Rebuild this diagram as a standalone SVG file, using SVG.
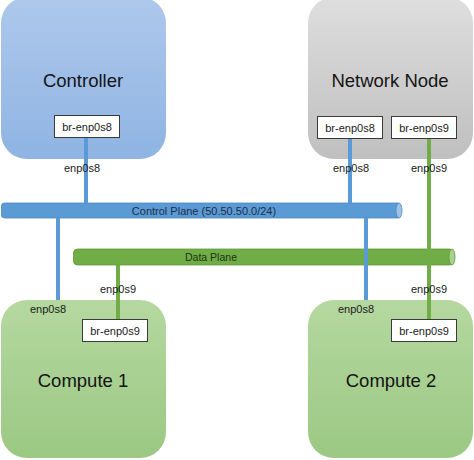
<svg xmlns="http://www.w3.org/2000/svg" width="474" height="460" viewBox="0 0 474 460">
<style>
.title{font-family:"Liberation Sans",Arial,sans-serif;font-size:18.5px;fill:#141414;text-anchor:middle}
.lbl{font-family:"Liberation Sans",Arial,sans-serif;font-size:11px;fill:#1a1a1a;text-anchor:middle}
.br{fill:#ffffff;stroke:#3a3a3a;stroke-width:1}
.blue{stroke:#5b9bd5;stroke-width:4;fill:none}
.green{stroke:#70ad47;stroke-width:4;fill:none}
</style>
<defs>
<linearGradient id="gBlue" x1="0" y1="0" x2="0" y2="1"><stop offset="0" stop-color="#aec8eb"/><stop offset="1" stop-color="#8fb4e3"/></linearGradient>
<linearGradient id="gGray" x1="0" y1="0" x2="0" y2="1"><stop offset="0" stop-color="#dedede"/><stop offset="1" stop-color="#bfbfbf"/></linearGradient>
<linearGradient id="gGreen" x1="0" y1="0" x2="0" y2="1"><stop offset="0" stop-color="#b5d8a0"/><stop offset="1" stop-color="#9bc883"/></linearGradient>
</defs>
<rect width="474" height="460" fill="#ffffff"/>

<g id="controller">
<rect x="1" y="-3" width="165" height="162" rx="26" fill="url(#gBlue)"/>
<text class="title" x="83" y="87">Controller</text>
</g>
<g id="network-node">
<rect x="308" y="-3" width="165" height="162" rx="26" fill="url(#gGray)"/>
<text class="title" x="390" y="87">Network Node</text>
</g>
<g id="compute1">
<rect x="1" y="300" width="165" height="158" rx="26" fill="url(#gGreen)"/>
<text class="title" x="83" y="387">Compute 1</text>
</g>
<g id="compute2">
<rect x="308" y="300" width="165" height="158" rx="26" fill="url(#gGreen)"/>
<text class="title" x="391" y="387">Compute 2</text>
</g>

<g id="control-plane">
<rect x="1.5" y="203" width="399" height="15" rx="3" fill="#5b9bd5" stroke="#4a86c0" stroke-width="0.8"/>
<ellipse cx="399" cy="210.5" rx="3" ry="7.5" fill="#9dc3e6" stroke="#4a86c0" stroke-width="0.8"/>
<text x="204" y="215" font-family="'Liberation Sans',Arial,sans-serif" font-size="11" fill="#1c2e4a" text-anchor="middle">Control Plane (50.50.50.0/24)</text>
</g>
<g id="data-plane">
<rect x="73.5" y="249" width="380" height="16" rx="4" fill="#70ad47" stroke="#5f9a3a" stroke-width="0.8"/>
<ellipse cx="452" cy="257" rx="3" ry="8" fill="#a9d18e" stroke="#5f9a3a" stroke-width="0.8"/>
<text x="211" y="261" font-family="'Liberation Sans',Arial,sans-serif" font-size="10.5" fill="#1e3312" text-anchor="middle">Data Plane</text>
</g>

<g id="connectors">
<line class="blue" x1="86" y1="137" x2="86" y2="203"/>
<line class="blue" x1="350" y1="138" x2="350" y2="203"/>
<line class="blue" x1="58" y1="218" x2="58" y2="300"/>
<line class="blue" x1="366" y1="218" x2="366" y2="300"/>
<line class="green" x1="429" y1="138" x2="429" y2="319"/>
<line class="green" x1="118" y1="265" x2="118" y2="319"/>
</g>

<g id="br-controller-8">
<rect class="br" x="54.5" y="115.5" width="65" height="22"/>
<text class="lbl" x="87" y="131">br-enp0s8</text>
</g>
<g id="br-network-8">
<rect class="br" x="317.5" y="116.5" width="65" height="22"/>
<text class="lbl" x="350" y="132">br-enp0s8</text>
</g>
<g id="br-network-9">
<rect class="br" x="391.5" y="116.5" width="65" height="22"/>
<text class="lbl" x="424" y="132">br-enp0s9</text>
</g>
<g id="br-compute1-9">
<rect class="br" x="82.5" y="319.5" width="65" height="22"/>
<text class="lbl" x="115" y="335">br-enp0s9</text>
</g>
<g id="br-compute2-9">
<rect class="br" x="391.5" y="319.5" width="65" height="22"/>
<text class="lbl" x="424" y="335">br-enp0s9</text>
</g>

<g id="labels">
<text class="lbl" x="82" y="172">enp0s8</text>
<text class="lbl" x="351" y="172">enp0s8</text>
<text class="lbl" x="429" y="172">enp0s9</text>
<text class="lbl" x="48" y="313">enp0s8</text>
<text class="lbl" x="118" y="293">enp0s9</text>
<text class="lbl" x="356" y="313">enp0s8</text>
<text class="lbl" x="429" y="293">enp0s9</text>
</g>
</svg>
